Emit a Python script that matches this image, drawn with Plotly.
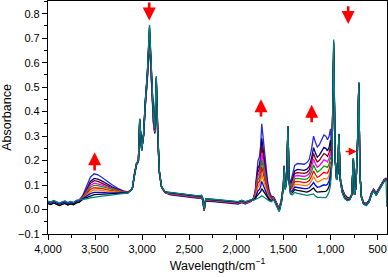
import plotly.graph_objects as go

# Wavenumber sampling points (cm^-1)
wavenumber = [
    4000, 3970, 3940, 3910, 3880, 3850, 3820, 3790, 3760, 3730, 3700, 3670,
    3630, 3590, 3550, 3510, 3470, 3430, 3380, 3320, 3260, 3200, 3150,
    3105, 3082, 3060, 3040, 3026, 3005, 2985, 2965, 2945, 2922, 2900, 2880, 2866, 2850, 2835, 2818, 2795, 2760,
    2700, 2600, 2500, 2400, 2370, 2358, 2342, 2325, 2250, 2150, 2050, 1980, 1943, 1905, 1870, 1845,
    1820, 1800, 1785, 1770, 1755, 1742, 1730, 1717, 1703, 1688, 1670, 1650, 1630,
    1605, 1590, 1565, 1545, 1520, 1500, 1493, 1480, 1465, 1452, 1440, 1425,
    1405, 1380, 1350, 1315, 1280, 1250, 1225, 1200, 1180, 1160, 1140, 1118, 1095, 1070, 1050, 1032, 1015, 1000,
    985, 966, 950, 935, 922, 911, 897, 875, 850, 822, 795, 775, 757, 745, 730, 713, 699, 688, 672, 650, 620, 590,
    565, 542, 515, 490, 460, 430, 410, 402,
]

abs_s0 = [
    0.034, 0.030, 0.037, 0.033, 0.026, 0.031, 0.035, 0.028, 0.033, 0.029, 0.037, 0.039,
    0.040, 0.044, 0.048, 0.051, 0.053, 0.055, 0.057, 0.060, 0.063, 0.066, 0.068,
    0.086, 0.150, 0.190, 0.200, 0.372, 0.240, 0.310, 0.455, 0.560, 0.755, 0.560, 0.380, 0.330, 0.545, 0.330, 0.160, 0.095, 0.072,
    0.070, 0.066, 0.061, 0.056, 0.058, 0.048, 0.004, 0.044, 0.042, 0.038, 0.034, 0.032, 0.038, 0.032, 0.036, 0.040,
    0.038, 0.040, 0.043, 0.046, 0.049, 0.052, 0.056, 0.053, 0.049, 0.045, 0.040, 0.035, 0.032,
    0.040, 0.030, 0.010, -0.008, 0.030, 0.090, 0.170, 0.080, 0.120, 0.340, 0.110, 0.062,
    0.060, 0.070, 0.066, 0.063, 0.060, 0.058, 0.060, 0.062, 0.064, 0.055, 0.050, 0.050, 0.049, 0.050, 0.049, 0.058, 0.072, 0.100,
    0.190, 0.695, 0.200, 0.120, 0.150, 0.310, 0.120, 0.068, 0.045, 0.036, 0.040, 0.058, 0.210, 0.060, 0.090, 0.275, 0.520, 0.150, 0.050, 0.022, 0.016, 0.030,
    0.060, 0.076, 0.058, 0.075, 0.098, 0.115, 0.118, 0.010,
]
abs_s1 = [
    0.024, 0.020, 0.027, 0.023, 0.016, 0.021, 0.025, 0.018, 0.023, 0.019, 0.027, 0.029,
    0.042, 0.049, 0.056, 0.061, 0.062, 0.063, 0.063, 0.064, 0.065, 0.067, 0.068,
    0.086, 0.149, 0.189, 0.200, 0.370, 0.241, 0.309, 0.453, 0.557, 0.748, 0.556, 0.377, 0.328, 0.541, 0.327, 0.159, 0.095, 0.072,
    0.069, 0.065, 0.060, 0.055, 0.057, 0.047, 0.003, 0.043, 0.041, 0.037, 0.033, 0.031, 0.037, 0.031, 0.035, 0.039,
    0.039, 0.044, 0.054, 0.061, 0.066, 0.073, 0.085, 0.077, 0.069, 0.060, 0.048, 0.039, 0.034,
    0.041, 0.031, 0.011, -0.007, 0.032, 0.092, 0.171, 0.082, 0.122, 0.340, 0.112, 0.067,
    0.068, 0.081, 0.078, 0.075, 0.073, 0.071, 0.075, 0.081, 0.088, 0.077, 0.071, 0.072, 0.073, 0.076, 0.074, 0.081, 0.095, 0.123,
    0.192, 0.686, 0.201, 0.121, 0.151, 0.309, 0.121, 0.070, 0.047, 0.037, 0.041, 0.058, 0.209, 0.060, 0.090, 0.274, 0.519, 0.150, 0.051, 0.023, 0.017, 0.031,
    0.061, 0.077, 0.059, 0.076, 0.099, 0.116, 0.119, 0.118,
]
abs_s2 = [
    0.030, 0.026, 0.033, 0.029, 0.022, 0.027, 0.031, 0.024, 0.029, 0.025, 0.033, 0.035,
    0.044, 0.054, 0.065, 0.070, 0.071, 0.070, 0.069, 0.068, 0.068, 0.068, 0.069,
    0.085, 0.148, 0.188, 0.199, 0.369, 0.242, 0.308, 0.450, 0.554, 0.741, 0.552, 0.374, 0.326, 0.537, 0.324, 0.158, 0.094, 0.072,
    0.068, 0.064, 0.059, 0.054, 0.056, 0.046, 0.002, 0.042, 0.040, 0.036, 0.032, 0.030, 0.036, 0.030, 0.034, 0.038,
    0.039, 0.047, 0.064, 0.077, 0.082, 0.094, 0.115, 0.100, 0.088, 0.074, 0.056, 0.043, 0.037,
    0.042, 0.032, 0.012, -0.006, 0.033, 0.093, 0.172, 0.084, 0.124, 0.339, 0.114, 0.072,
    0.076, 0.092, 0.090, 0.087, 0.085, 0.085, 0.089, 0.100, 0.111, 0.099, 0.091, 0.093, 0.096, 0.101, 0.099, 0.103, 0.118, 0.146,
    0.194, 0.676, 0.201, 0.122, 0.151, 0.308, 0.122, 0.071, 0.048, 0.039, 0.042, 0.059, 0.208, 0.060, 0.090, 0.274, 0.517, 0.150, 0.051, 0.024, 0.018, 0.032,
    0.062, 0.078, 0.060, 0.077, 0.100, 0.117, 0.120, 0.119,
]
abs_s3 = [
    0.026, 0.022, 0.029, 0.025, 0.018, 0.023, 0.027, 0.020, 0.025, 0.021, 0.029, 0.031,
    0.045, 0.058, 0.073, 0.080, 0.080, 0.078, 0.075, 0.072, 0.070, 0.069, 0.069,
    0.085, 0.147, 0.188, 0.199, 0.367, 0.243, 0.307, 0.448, 0.551, 0.734, 0.548, 0.371, 0.324, 0.533, 0.321, 0.157, 0.094, 0.071,
    0.067, 0.063, 0.058, 0.053, 0.055, 0.045, 0.001, 0.041, 0.039, 0.035, 0.031, 0.029, 0.035, 0.029, 0.033, 0.037,
    0.040, 0.051, 0.075, 0.092, 0.099, 0.114, 0.144, 0.124, 0.108, 0.089, 0.064, 0.047, 0.039,
    0.044, 0.034, 0.014, -0.004, 0.035, 0.095, 0.173, 0.086, 0.126, 0.339, 0.116, 0.076,
    0.084, 0.103, 0.103, 0.100, 0.098, 0.098, 0.104, 0.118, 0.135, 0.121, 0.112, 0.115, 0.120, 0.127, 0.124, 0.126, 0.140, 0.169,
    0.196, 0.667, 0.202, 0.123, 0.152, 0.307, 0.124, 0.073, 0.050, 0.040, 0.042, 0.059, 0.207, 0.061, 0.090, 0.273, 0.516, 0.150, 0.052, 0.024, 0.018, 0.032,
    0.062, 0.078, 0.061, 0.078, 0.101, 0.118, 0.121, 0.120,
]
abs_s4 = [
    0.033, 0.029, 0.036, 0.032, 0.025, 0.030, 0.034, 0.027, 0.032, 0.028, 0.036, 0.038,
    0.047, 0.063, 0.082, 0.089, 0.089, 0.086, 0.081, 0.076, 0.073, 0.070, 0.070,
    0.084, 0.146, 0.187, 0.198, 0.365, 0.244, 0.306, 0.445, 0.548, 0.727, 0.544, 0.368, 0.322, 0.529, 0.318, 0.156, 0.094, 0.071,
    0.066, 0.062, 0.057, 0.052, 0.054, 0.044, 0.000, 0.040, 0.038, 0.034, 0.030, 0.028, 0.034, 0.028, 0.032, 0.036,
    0.041, 0.054, 0.086, 0.108, 0.115, 0.135, 0.174, 0.148, 0.127, 0.103, 0.072, 0.051, 0.041,
    0.045, 0.035, 0.015, -0.003, 0.036, 0.096, 0.174, 0.088, 0.128, 0.338, 0.118, 0.081,
    0.092, 0.114, 0.115, 0.112, 0.110, 0.112, 0.118, 0.137, 0.158, 0.143, 0.132, 0.136, 0.143, 0.152, 0.149, 0.149, 0.163, 0.192,
    0.198, 0.657, 0.202, 0.124, 0.152, 0.306, 0.125, 0.075, 0.052, 0.042, 0.043, 0.060, 0.206, 0.061, 0.090, 0.272, 0.514, 0.150, 0.052, 0.025, 0.019, 0.033,
    0.063, 0.079, 0.062, 0.079, 0.102, 0.119, 0.122, 0.121,
]
abs_s5 = [
    0.028, 0.024, 0.031, 0.027, 0.020, 0.025, 0.029, 0.022, 0.027, 0.023, 0.031, 0.033,
    0.049, 0.068, 0.090, 0.099, 0.098, 0.094, 0.087, 0.081, 0.075, 0.071, 0.070,
    0.084, 0.145, 0.186, 0.198, 0.364, 0.245, 0.305, 0.443, 0.545, 0.720, 0.540, 0.365, 0.320, 0.525, 0.315, 0.155, 0.094, 0.071,
    0.065, 0.061, 0.056, 0.051, 0.053, 0.043, -0.001, 0.039, 0.037, 0.033, 0.029, 0.027, 0.033, 0.027, 0.031, 0.035,
    0.042, 0.058, 0.097, 0.123, 0.132, 0.156, 0.203, 0.172, 0.147, 0.118, 0.080, 0.055, 0.044,
    0.046, 0.036, 0.016, -0.002, 0.038, 0.098, 0.175, 0.090, 0.130, 0.338, 0.120, 0.086,
    0.100, 0.125, 0.127, 0.124, 0.123, 0.125, 0.133, 0.156, 0.182, 0.165, 0.153, 0.158, 0.167, 0.178, 0.175, 0.172, 0.186, 0.215,
    0.200, 0.648, 0.203, 0.125, 0.153, 0.305, 0.126, 0.077, 0.054, 0.043, 0.044, 0.060, 0.205, 0.061, 0.090, 0.272, 0.513, 0.150, 0.053, 0.026, 0.020, 0.034,
    0.064, 0.080, 0.063, 0.080, 0.103, 0.120, 0.123, 0.122,
]
abs_s6 = [
    0.032, 0.028, 0.035, 0.031, 0.024, 0.029, 0.033, 0.026, 0.031, 0.027, 0.035, 0.037,
    0.051, 0.073, 0.098, 0.108, 0.106, 0.101, 0.093, 0.085, 0.077, 0.072, 0.070,
    0.084, 0.144, 0.185, 0.197, 0.362, 0.246, 0.304, 0.440, 0.542, 0.713, 0.536, 0.362, 0.318, 0.521, 0.312, 0.154, 0.093, 0.071,
    0.064, 0.060, 0.055, 0.050, 0.052, 0.042, -0.002, 0.038, 0.036, 0.032, 0.028, 0.026, 0.032, 0.026, 0.030, 0.034,
    0.042, 0.061, 0.107, 0.138, 0.149, 0.177, 0.232, 0.195, 0.167, 0.132, 0.088, 0.059, 0.046,
    0.047, 0.037, 0.017, -0.001, 0.039, 0.099, 0.176, 0.092, 0.132, 0.337, 0.122, 0.091,
    0.108, 0.136, 0.139, 0.136, 0.135, 0.138, 0.147, 0.175, 0.206, 0.187, 0.173, 0.179, 0.191, 0.203, 0.200, 0.194, 0.209, 0.238,
    0.202, 0.638, 0.203, 0.126, 0.153, 0.304, 0.127, 0.078, 0.055, 0.044, 0.045, 0.060, 0.204, 0.061, 0.090, 0.271, 0.511, 0.150, 0.054, 0.027, 0.021, 0.035,
    0.065, 0.081, 0.064, 0.081, 0.104, 0.120, 0.124, 0.122,
]
abs_s7 = [
    0.025, 0.021, 0.028, 0.024, 0.017, 0.022, 0.026, 0.019, 0.024, 0.020, 0.028, 0.030,
    0.053, 0.078, 0.107, 0.118, 0.115, 0.109, 0.099, 0.089, 0.080, 0.073, 0.071,
    0.083, 0.143, 0.184, 0.197, 0.360, 0.247, 0.303, 0.438, 0.539, 0.706, 0.532, 0.359, 0.316, 0.517, 0.309, 0.153, 0.093, 0.071,
    0.063, 0.059, 0.054, 0.049, 0.051, 0.041, -0.003, 0.037, 0.035, 0.031, 0.027, 0.025, 0.031, 0.025, 0.029, 0.033,
    0.043, 0.065, 0.118, 0.154, 0.165, 0.198, 0.262, 0.219, 0.186, 0.147, 0.096, 0.063, 0.048,
    0.048, 0.038, 0.018, 0.000, 0.041, 0.101, 0.177, 0.094, 0.134, 0.337, 0.124, 0.096,
    0.116, 0.147, 0.151, 0.148, 0.148, 0.152, 0.162, 0.194, 0.229, 0.209, 0.194, 0.201, 0.214, 0.229, 0.225, 0.217, 0.232, 0.261,
    0.204, 0.629, 0.204, 0.127, 0.154, 0.303, 0.128, 0.080, 0.057, 0.046, 0.046, 0.061, 0.203, 0.061, 0.090, 0.270, 0.510, 0.150, 0.054, 0.028, 0.022, 0.036,
    0.066, 0.082, 0.065, 0.082, 0.105, 0.121, 0.125, 0.123,
]
abs_s8 = [
    0.031, 0.027, 0.034, 0.030, 0.023, 0.028, 0.032, 0.025, 0.030, 0.026, 0.034, 0.036,
    0.054, 0.082, 0.115, 0.127, 0.124, 0.117, 0.105, 0.093, 0.082, 0.074, 0.071,
    0.083, 0.142, 0.184, 0.196, 0.358, 0.248, 0.302, 0.435, 0.536, 0.699, 0.528, 0.356, 0.314, 0.513, 0.306, 0.152, 0.093, 0.070,
    0.062, 0.058, 0.053, 0.048, 0.050, 0.040, -0.004, 0.036, 0.034, 0.030, 0.026, 0.024, 0.030, 0.024, 0.029, 0.034,
    0.044, 0.068, 0.129, 0.169, 0.182, 0.218, 0.291, 0.243, 0.206, 0.161, 0.104, 0.067, 0.050,
    0.050, 0.040, 0.020, 0.002, 0.042, 0.102, 0.178, 0.096, 0.136, 0.336, 0.126, 0.100,
    0.124, 0.158, 0.164, 0.161, 0.160, 0.165, 0.176, 0.212, 0.253, 0.231, 0.214, 0.222, 0.238, 0.254, 0.250, 0.240, 0.254, 0.284,
    0.206, 0.619, 0.204, 0.128, 0.154, 0.302, 0.130, 0.082, 0.059, 0.047, 0.046, 0.061, 0.202, 0.062, 0.090, 0.269, 0.508, 0.150, 0.055, 0.028, 0.022, 0.036,
    0.066, 0.082, 0.066, 0.083, 0.106, 0.122, 0.126, 0.124,
]
abs_s9 = [
    0.027, 0.023, 0.030, 0.026, 0.019, 0.024, 0.028, 0.021, 0.026, 0.022, 0.030, 0.038,
    0.058, 0.092, 0.132, 0.146, 0.142, 0.132, 0.117, 0.101, 0.087, 0.076, 0.072,
    0.082, 0.140, 0.182, 0.195, 0.355, 0.250, 0.300, 0.430, 0.530, 0.685, 0.520, 0.350, 0.310, 0.505, 0.300, 0.150, 0.092, 0.070,
    0.060, 0.056, 0.051, 0.046, 0.048, 0.038, -0.006, 0.034, 0.032, 0.028, 0.024, 0.022, 0.028, 0.022, 0.030, 0.038,
    0.045, 0.075, 0.150, 0.200, 0.215, 0.260, 0.350, 0.290, 0.245, 0.190, 0.120, 0.075, 0.055,
    0.052, 0.042, 0.022, 0.004, 0.045, 0.105, 0.180, 0.100, 0.140, 0.335, 0.130, 0.110,
    0.140, 0.180, 0.188, 0.185, 0.185, 0.192, 0.205, 0.250, 0.300, 0.275, 0.255, 0.265, 0.285, 0.305, 0.300, 0.285, 0.300, 0.330,
    0.210, 0.600, 0.205, 0.130, 0.155, 0.300, 0.132, 0.085, 0.062, 0.050, 0.048, 0.062, 0.200, 0.062, 0.090, 0.268, 0.505, 0.150, 0.056, 0.030, 0.024, 0.038,
    0.068, 0.084, 0.068, 0.085, 0.108, 0.124, 0.128, 0.126,
]

series_values = [abs_s9, abs_s8, abs_s7, abs_s6, abs_s5, abs_s4, abs_s3, abs_s2, abs_s1, abs_s0]
series_colors = ["#2a2ad2", "#000080", "#800000", "#ff00ff", "#00a000",
                 "#ff0000", "#ff8000", "#0000ff", "#000000", "#008080"]

x_ticks = [4000, 3500, 3000, 2500, 2000, 1500, 1000, 500]
x_tick_labels = ["4,000", "3,500", "3,000", "2,500", "2,000", "1,500", "1,000", "500"]
y_ticks = [-0.1, 0.0, 0.1, 0.2, 0.3, 0.4, 0.5, 0.6, 0.7, 0.8]
y_tick_labels = ["\u22120.1", "0.0", "0.1", "0.2", "0.3", "0.4", "0.5", "0.6", "0.7", "0.8"]

# Red arrows: (x, tail y, head y) in data units
arrow_x = [3505, 2925, 1738, 1200, 812]
arrow_tail = [0.153, 0.852, 0.374, 0.350, 0.837]
arrow_head = [0.234, 0.772, 0.451, 0.428, 0.758]

fig = go.Figure()
for vals, col in zip(series_values, series_colors):
    assert len(vals) == len(wavenumber)
    fig.add_trace(go.Scatter(x=wavenumber, y=vals, mode="lines",
                             line=dict(color=col, width=1.3), showlegend=False,
                             hoverinfo="skip"))

for xa, yt, yh in zip(arrow_x, arrow_tail, arrow_head):
    fig.add_annotation(x=xa, y=yh, ax=xa, ay=yt, xref="x", yref="y", axref="x", ayref="y",
                       showarrow=True, arrowhead=2, arrowsize=1, arrowwidth=2.6,
                       arrowcolor="#ff0000", text="")
fig.add_annotation(x=723, y=0.237, ax=855, ay=0.237, xref="x", yref="y", axref="x", ayref="y",
                   showarrow=True, arrowhead=2, arrowsize=1.2, arrowwidth=1.3,
                   arrowcolor="#ff0000", text="")

axis_common = dict(showline=True, linecolor="black", linewidth=1.2, mirror=True,
                   showgrid=False, zeroline=False, ticks="outside", ticklen=5,
                   tickwidth=1, tickcolor="black", automargin=False)

fig.update_layout(
    width=388, height=277,
    margin=dict(l=48, r=1, t=1, b=43),
    plot_bgcolor="white", paper_bgcolor="white",
    font=dict(family="Liberation Sans, Arial, sans-serif", size=11, color="black"),
    showlegend=False,
    xaxis=dict(range=[4000, 400], tickmode="array", tickvals=x_ticks, ticktext=x_tick_labels,
               minor=dict(tickmode="linear", tick0=0, dtick=250, ticks="outside", ticklen=3,
                          tickcolor="black", showgrid=False),
               title=dict(text="Wavelength/cm<sup>\u22121</sup>", font=dict(size=12.5), standoff=6),
               **axis_common),
    yaxis=dict(range=[-0.1, 0.852], tickmode="array", tickvals=y_ticks, ticktext=y_tick_labels,
               minor=dict(tickmode="linear", tick0=0, dtick=0.05, ticks="outside", ticklen=3,
                          tickcolor="black", showgrid=False),
               title=dict(text="Absorbance", font=dict(size=12.5), standoff=4),
               **axis_common),
)

fig.write_html("out.html", config={"displayModeBar": False},
               post_script="document.body.style.margin='0';document.body.style.overflow='hidden';")
